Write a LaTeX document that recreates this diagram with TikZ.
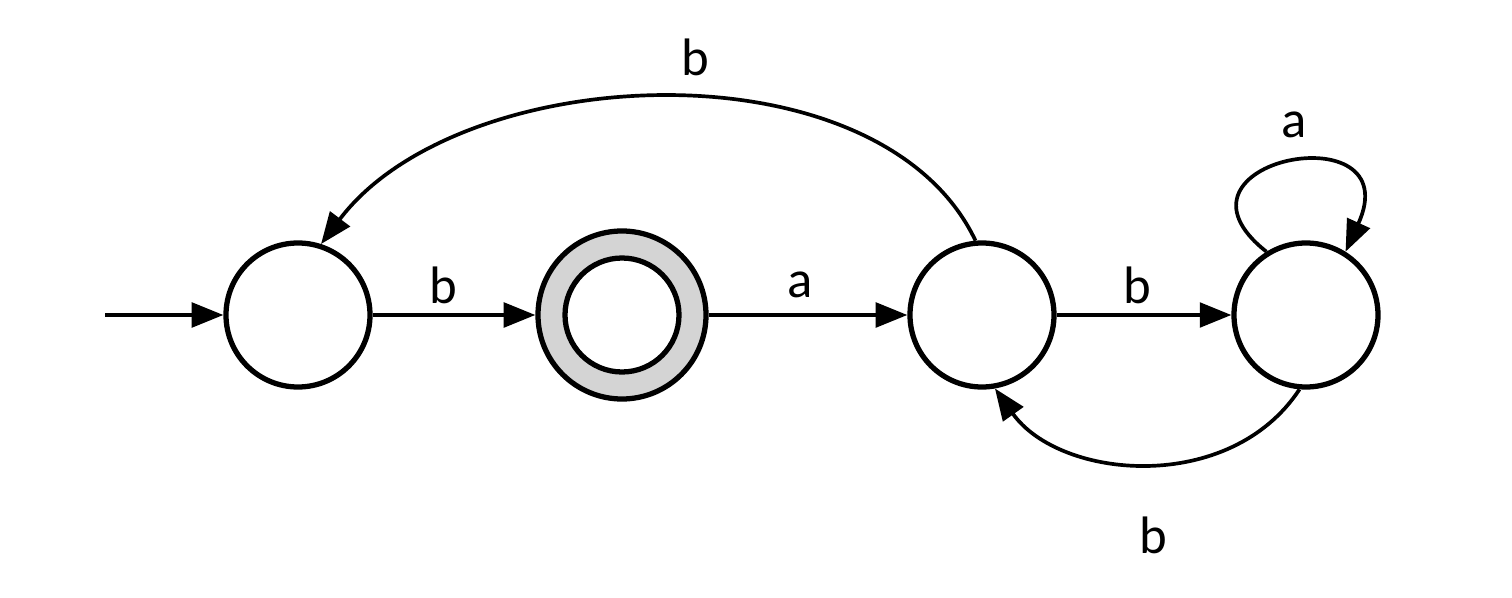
\documentclass[tikz,border=0pt]{standalone}
\usepackage{fontspec}
\setmainfont{Carlito}
\usetikzlibrary{arrows.meta}
\begin{document}
\begin{tikzpicture}[x=0.02cm,y=-0.02cm,
  state/.style={circle,draw,line width=3pt,minimum size=144*0.02cm,inner sep=0pt,fill=white},
  edge/.style={line width=2.1pt,-{Triangle[length=18pt,width=14pt]}},
  lab/.style={font=\fontsize{30}{32}\selectfont}]
\useasboundingbox (0,0) rectangle (1512,598);
\node[state] (A) at (298,315) {};
\node[circle,draw,line width=3pt,fill=black!17,minimum size=168*0.02cm,inner sep=0pt] (B) at (622,315) {};
\node[circle,draw,line width=3pt,fill=white,minimum size=114*0.02cm,inner sep=0pt] (Bi) at (622,315) {};
\node[state] (C) at (982,315) {};
\node[state] (D) at (1306,315) {};
\coordinate (S) at (105,315);
\draw[edge] (S) -- (A);
\draw[edge] (A) -- (B);
\draw[edge] (B) -- (C);
\draw[edge] (C) -- (D);
\draw[edge] (C.95) .. controls (880,40) and (460,60) .. (A.72);
\draw[edge] (D.-95) .. controls (1230,495) and (1060,480) .. (C.-80);
\draw[edge] (D.122) .. controls (1150,160) and (1410,110) .. (D.58);
\node[lab] (l1) at (443,285) {b};
\node[lab] (l2) at (800,285) {a};
\node[lab] (l3) at (1137,285) {b};
\node[lab] (l4) at (695,57) {b};
\node[lab] (l5) at (1294,125) {a};
\node[lab] (l6) at (1153,535) {b};
\end{tikzpicture}
\end{document}
